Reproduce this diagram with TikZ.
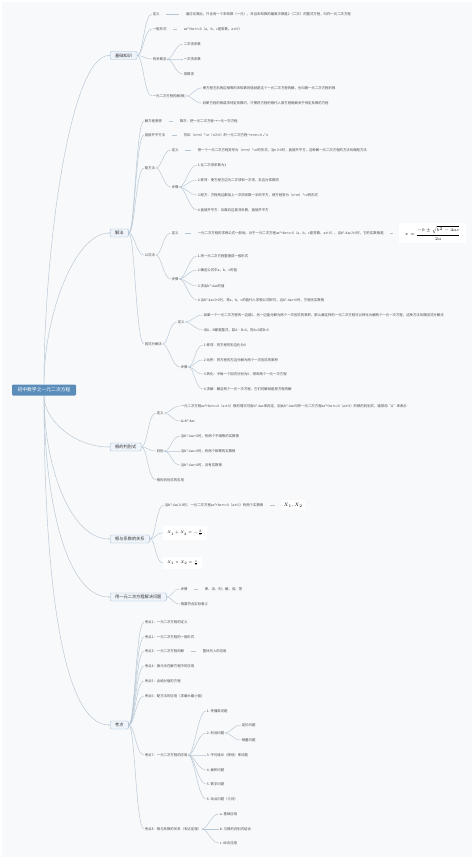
\documentclass[tikz,border=0pt]{standalone}
\usepackage{fontspec}
\usepackage{amsmath}
\usepackage{xcolor}
\usepackage{tikz}
\usetikzlibrary{arrows.meta, positioning}
\newfontfamily\cjk{Noto Sans CJK SC}
\definecolor{rootBlue}{HTML}{5B8DBA}
\definecolor{topicFill}{HTML}{EEF4FA}
\definecolor{topicLine}{HTML}{A3BDD4}
\definecolor{linkGray}{HTML}{B5C6D5}
\definecolor{leafText}{HTML}{4A4A4A}
\definecolor{paper}{HTML}{F8F9FA}
\def\leafFont{\cjk\fontsize{3.4}{4}\selectfont}
\def\topicFont{\cjk\fontsize{4.2}{5}\selectfont}
\def\rootFont{\cjk\fontsize{4.8}{6}\selectfont}
\def\ctrlOut{6}
\def\ctrlIn{8}
\newcommand{\curvelink}[2]{%
% #1 = parent, #2 = child
\draw[linkline] (#1.east) .. controls +(\ctrlOut,0) and +(-\ctrlIn,0) .. (#2.west);
}
\newcommand{\dashlink}[2]{%
\draw[linkline, shorten <=6pt, shorten >=6pt] (#1.east) -- (#2.west);
}

\begin{document}
\begin{tikzpicture}[
    x=1pt, y=-1pt,
    linkline/.style={draw=linkGray, line width=0.45pt},
    rootbox/.style={fill=rootBlue, text=white, font=\rootFont, rounded corners=1.2pt,
        minimum width=64pt, minimum height=11pt, inner sep=1pt},
    topicbox/.style={draw=topicLine, fill=topicFill, font=\topicFont, text=black!80,
        rounded corners=1.2pt, minimum height=8pt, inner xsep=5pt, inner ysep=1pt,
        anchor=west, line width=0.4pt},
    leafnode/.style={font=\leafFont, text=leafText, inner sep=0.6pt, anchor=west},
    formula/.style={fill=white, inner sep=2.5pt, anchor=west, text=black, font=\fontsize{5}{6}\selectfont},
    >={Stealth[length=1.6pt,width=1.4pt]}
]
\useasboundingbox (0,0) rectangle (474,859);
\fill[white] (0,0) rectangle (474,859);
\fill[paper] (2,2) rectangle (472,857);

\node[rootbox] (root) at (44,390) {初中数学之一元二次方程};

\node[topicbox] (jc) at (110,55.5) {基础知识};
\node[topicbox] (jf) at (110,233) {解法};
\node[topicbox] (pb) at (110,447) {根的判别式};
\node[topicbox] (gx) at (110,539) {根与系数的关系};
\node[topicbox] (wt) at (110,597) {用一元二次方程解决问题};
\node[topicbox] (kd) at (110,725) {考点};

\draw[linkline,->] (root.north) .. controls +(0,-135) and +(-40,0) .. (jc.west);
\draw[linkline,->] (root.north) .. controls +(0,-70) and +(-35,0) .. (jf.west);
\draw[linkline,->] (root.south) .. controls +(0,25) and +(-35,0) .. (pb.west);
\draw[linkline,->] (root.south) .. controls +(0,70) and +(-40,0) .. (gx.west);
\draw[linkline,->] (root.south) .. controls +(0,100) and +(-45,0) .. (wt.west);
\draw[linkline,->] (root.south) .. controls +(0,170) and +(-50,0) .. (kd.west);

% basics
\node[leafnode] (jcdy) at (152,14) {定义};
\node[leafnode] (jcdyt) at (185,14) {通过化简后，只含有一个未知数（一元），并且未知数的最高次数是2（二次）的整式方程，叫作一元二次方程};
\node[leafnode] (jcyb) at (152,29) {一般形式};
\node[leafnode] (jcybt) at (183,29) {ax²+bx+c=0（a，b，c是常数，a≠0）};
\node[leafnode] (jcgn) at (152,59) {有关概念};
\node[leafnode] (jcgn1) at (183,44) {二次项系数};
\node[leafnode] (jcgn2) at (183,59) {一次项系数};
\node[leafnode] (jcgn3) at (183,74) {常数项};
\node[leafnode] (jcjie) at (152,96) {一元二次方程的解(根)};
\node[leafnode] (jcjie1) at (202,88) {使方程左右两边相等的未知数的值就是这个一元二次方程的解，也叫做一元二次方程的根};
\node[leafnode] (jcjie2) at (202,103) {判断方程的根或求待定系数时，只需将方程的根代入原方程再解关于待定系数的方程};
\foreach \c in {jcdy,jcyb,jcgn,jcjie} {\curvelink{jc}{\c}}
\dashlink{jcdy}{jcdyt}
\dashlink{jcyb}{jcybt}
\foreach \c in {jcgn1,jcgn2,jcgn3} {\curvelink{jcgn}{\c}}
\foreach \c in {jcjie1,jcjie2} {\curvelink{jcjie}{\c}}

% methods
\node[leafnode] (sx) at (144,121) {解方程思想};
\node[leafnode] (sxt) at (179,121) {降次：把一元二次方程→一元一次方程};
\node[leafnode] (kp) at (144,135) {直接开平方法};
\node[leafnode] (kpt) at (183,135) {形如（x+m）²=n（n≥0）的一元二次方程→x+m=±√n};
\node[leafnode] (pf) at (144,168) {配方法};
\node[leafnode] (pfdy) at (171,150) {定义};
\node[leafnode] (pfdyt) at (197,150) {把一个一元二次方程变形为（x+m）²=n的形式，当n≥0时，直接开平方，这种解一元二次方程的方法叫做配方法};
\node[leafnode] (pfbz) at (171,187) {步骤};
\node[leafnode] (pfbz1) at (197,165) {1.化二次项系数为1};
\node[leafnode] (pfbz2) at (197,180) {2.移项：使方程左边为二次项和一次项，右边为常数项};
\node[leafnode] (pfbz3) at (197,195) {3.配方：方程两边都加上一次项系数一半的平方，使方程变为（x+m）²=n的形式};
\node[leafnode] (pfbz4) at (197,210) {4.直接开平方：如果右边是非负数，直接开平方};
\node[leafnode] (gs) at (144,255) {公式法};
\node[leafnode] (gsdy) at (171,233) {定义};
\node[leafnode] (gsdyt) at (197,233) {一元二次方程的求根公式一般地，对于一元二次方程ax²+bx+c=0（a，b，c是常数，a≠0），当b²-4ac≥0时，它的实数根是};
\node[formula, inner xsep=6pt] (gsf) at (399,233) {\scalebox{0.85}{$x=\dfrac{-b\pm\sqrt{b^2-4ac}}{2a}$}};
\node[leafnode] (gsbz) at (171,279) {步骤};
\node[leafnode] (gsbz1) at (197,256) {1.将一元二次方程整理成一般形式};
\node[leafnode] (gsbz2) at (197,270) {2.确定公式中a，b，c的值};
\node[leafnode] (gsbz3) at (197,286) {3.求出b²-4ac的值};
\node[leafnode] (gsbz4) at (197,300) {4.当b²-4ac≥0时，将a，b，c的值代入求根公式即可，当b²-4ac<0时，方程无实数根};
\node[leafnode] (ys) at (144,344) {因式分解法};
\node[leafnode] (ysdy) at (177,322) {定义};
\node[leafnode] (ysdy1) at (203,315) {如果一个一元二次方程的一边是0，另一边能分解为两个一次因式的乘积，那么解这样的一元二次方程可以转化为解两个一元一次方程，这种方法叫做因式分解法};
\node[leafnode] (ysdy2) at (203,330) {设A，B都是整式，若A·B=0，则A=0或B=0};
\node[leafnode] (ysbz) at (180,367) {步骤};
\node[leafnode] (ysbz1) at (203,345) {1.移项：将方程的右边化为0};
\node[leafnode] (ysbz2) at (203,360) {2.化积：将方程的左边分解为两个一次因式的乘积};
\node[leafnode] (ysbz3) at (203,374) {3.转化：令每一个因式分别为0，得到两个一元一次方程};
\node[leafnode] (ysbz4) at (203,389) {4.求解：解这两个一元一次方程，它们的解就是原方程的解};
\foreach \c in {sx,kp,pf,gs,ys} {\curvelink{jf}{\c}}
\dashlink{sx}{sxt}
\dashlink{kp}{kpt}
\foreach \c in {pfdy,pfbz} {\curvelink{pf}{\c}}
\dashlink{pfdy}{pfdyt}
\foreach \c in {pfbz1,pfbz2,pfbz3,pfbz4} {\curvelink{pfbz}{\c}}
\foreach \c in {gsdy,gsbz} {\curvelink{gs}{\c}}
\dashlink{gsdy}{gsdyt}
\dashlink{gsdyt}{gsf}
\foreach \c in {gsbz1,gsbz2,gsbz3,gsbz4} {\curvelink{gsbz}{\c}}
\foreach \c in {ysdy,ysbz} {\curvelink{ys}{\c}}
\foreach \c in {ysdy1,ysdy2} {\curvelink{ysdy}{\c}}
\foreach \c in {ysbz1,ysbz2,ysbz3,ysbz4} {\curvelink{ysbz}{\c}}

% discriminant
\node[leafnode] (pbdy) at (156,413) {定义};
\node[leafnode] (pbdy1) at (180,406) {一元二次方程ax²+bx+c=0（a≠0）根的情况可由b²-4ac来判定，因此b²-4ac叫作一元二次方程ax²+bx+c=0（a≠0）的根的判别式，通常用“Δ”来表示};
\node[leafnode] (pbdy2) at (180,421) {Δ=b²-4ac};
\node[leafnode] (pbpb) at (156,451) {判别};
\node[leafnode] (pbpb1) at (180,436) {当b²-4ac>0时，有两个不相等的实数根};
\node[leafnode] (pbpb2) at (180,451) {当b²-4ac=0时，有两个相等的实数根};
\node[leafnode] (pbpb3) at (180,465) {当b²-4ac<0时，没有实数根};
\node[leafnode] (pbyy) at (156,480) {根的判别式的应用};
\foreach \c in {pbdy,pbpb,pbyy} {\curvelink{pb}{\c}}
\foreach \c in {pbdy1,pbdy2} {\curvelink{pbdy}{\c}}
\foreach \c in {pbpb1,pbpb2,pbpb3} {\curvelink{pbpb}{\c}}

% roots and coefficients
\node[leafnode] (gx1) at (164,505) {当b²-4ac≥0时，一元二次方程ax²+bx+c=0（a≠0）有两个实数根};
\node[formula, font=\fontsize{6}{7}\selectfont] (gx1f) at (281,505) {\scalebox{0.8}{$X_1,X_2$}};
\node[formula, inner sep=4pt] (gx2) at (163,533) {\scalebox{0.72}{$X_1+X_2=-\,\frac{b}{a}$}};
\node[formula, inner sep=4pt] (gx3) at (163,563) {\scalebox{0.72}{$X_1\times X_2=\frac{c}{a}$}};
\foreach \c in {gx1,gx2,gx3} {\curvelink{gx}{\c}}
\dashlink{gx1}{gx1f}

% word problems
\node[leafnode] (wtbz) at (180,589) {步骤};
\node[leafnode] (wtbzt) at (204,589) {审、设、列、解、验、答};
\node[leafnode] (wtsj) at (180,604) {根要符合实际意义};
\foreach \c in {wtbz,wtsj} {\curvelink{wt}{\c}}
\dashlink{wtbz}{wtbzt}

% exam points
\node[leafnode] (k1) at (144,622) {考点1：一元二次方程的定义};
\node[leafnode] (k2) at (144,637) {考点2：一元二次方程的一般形式};
\node[leafnode] (k3) at (144,651) {考点3：一元二次方程的解};
\node[leafnode] (k3t) at (202,651) {整体代入的应用};
\node[leafnode] (k4) at (144,666) {考点4：换元法在解方程中的应用};
\node[leafnode] (k5) at (144,681) {考点5：含绝对值的方程};
\node[leafnode] (k6) at (144,696) {考点6：配方法的应用（求最大最小值）};
\node[leafnode] (k7) at (144,755) {考点7：一元二次方程的应用};
\node[leafnode] (k71) at (206,711) {1. 传播类问题};
\node[leafnode] (k72) at (206,733) {2. 利润问题};
\node[leafnode] (k72a) at (241,725) {定价问题};
\node[leafnode] (k72b) at (241,740) {销量问题};
\node[leafnode] (k73) at (206,755) {3. 平均增长（降低）率问题};
\node[leafnode] (k74) at (206,770) {4. 面积问题};
\node[leafnode] (k75) at (206,784) {5. 数字问题};
\node[leafnode] (k76) at (206,799) {6. 动点问题（几何）};
\node[leafnode] (k8) at (144,829) {考点8：根与系数的关系（韦达定理）};
\node[leafnode] (k81) at (219,814) {a. 基础应用};
\node[leafnode] (k82) at (219,829) {b. 与根的判别式结合};
\node[leafnode] (k83) at (219,843) {c. 综合应用};
\foreach \c in {k1,k2,k3,k4,k5,k6,k7,k8} {\curvelink{kd}{\c}}
\dashlink{k3}{k3t}
\foreach \c in {k71,k72,k73,k74,k75,k76} {\curvelink{k7}{\c}}
\foreach \c in {k72a,k72b} {\curvelink{k72}{\c}}
\foreach \c in {k81,k82,k83} {\curvelink{k8}{\c}}
\end{tikzpicture}
\end{document}
